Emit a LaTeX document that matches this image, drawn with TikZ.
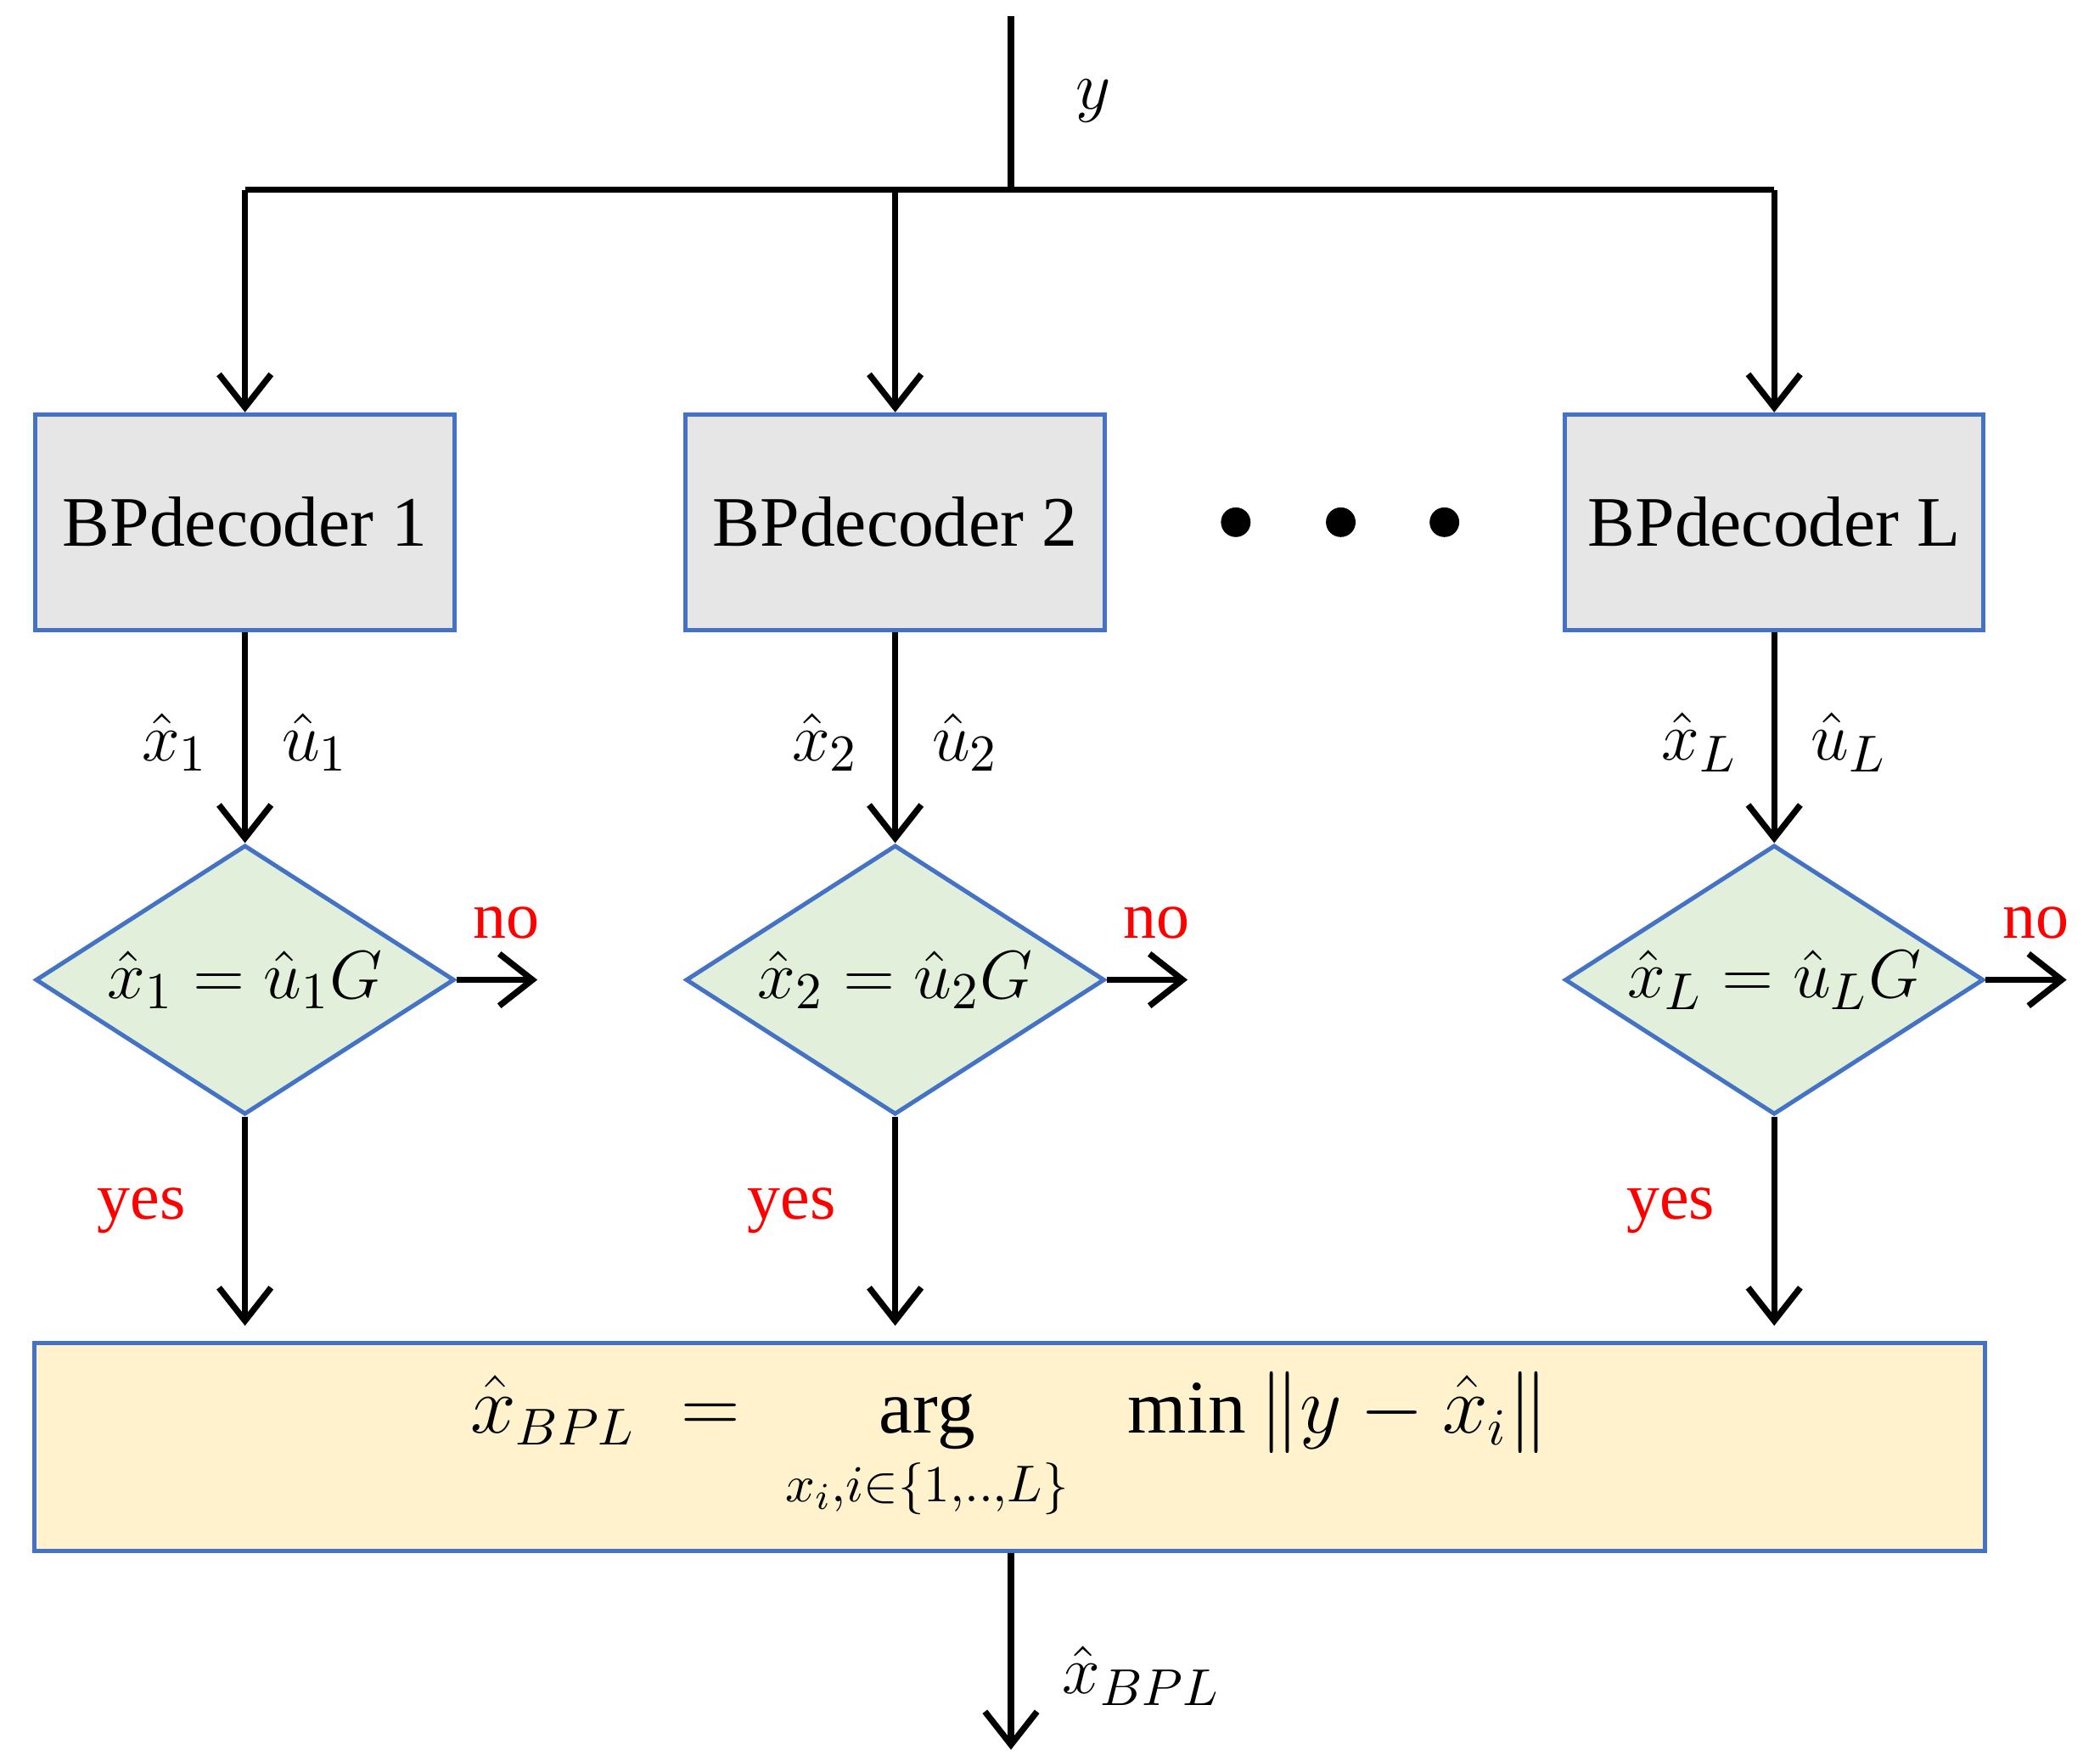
\documentclass[tikz,border=0pt]{standalone}
\usepackage{amsmath}
\usepackage{fontspec}
\setmainfont{Liberation Serif}
\usetikzlibrary{shapes.geometric,arrows.meta}
\definecolor{bblue}{HTML}{4472C4}
\definecolor{bgray}{HTML}{E7E6E6}
\definecolor{bgreen}{HTML}{E2EFDA}
\definecolor{byellow}{HTML}{FFF2CC}
\begin{document}
\begin{tikzpicture}[x=0.01cm,y=-0.01cm,
  line/.style={line width=1.3pt,black},
  arr/.style={line width=1.3pt,-{Straight Barb[length=7pt,width=11pt,line width=1.3pt]}},
  box/.style={draw=bblue,line width=0.9pt,fill=bgray,minimum width=3.11cm,minimum height=1.6cm,font=\fontsize{15}{17}\selectfont},
  dia/.style={diamond,draw=bblue,line width=0.9pt,fill=bgreen,minimum width=3.11cm,minimum height=2cm,aspect=1.555,inner sep=0pt,font=\fontsize{15}{17}\selectfont},
  lab/.style={font=\fontsize{15}{17}\selectfont},
  red/.style={text=red,font=\fontsize{14}{16}\selectfont}]
\useasboundingbox (0,0) rectangle (1560,1308);
\coordinate (top) at (751,12);
\coordinate (j) at (751,141);
\coordinate (j1) at (182,141);
\coordinate (j2) at (665,141);
\coordinate (jL) at (1318,141);
\node[lab] (y) at (812,75) {$y$};
\node[box] (b1) at (182,388) {BPdecoder 1};
\node[box] (b2) at (665,388) {BPdecoder 2};
\node[box] (bL) at (1318,388) {BPdecoder L};
\node[circle,fill,inner sep=0pt,minimum size=0.22cm] (d1) at (918,388) {};
\node[circle,fill,inner sep=0pt,minimum size=0.22cm] (d2) at (996,388) {};
\node[circle,fill,inner sep=0pt,minimum size=0.22cm] (d3) at (1073,388) {};
\node[dia] (c1) at (182,728) {$\hat{x}_1=\hat{u}_1G$};
\node[dia] (c2) at (665,728) {$\hat{x}_2=\hat{u}_2G$};
\node[dia] (cL) at (1318,728) {$\hat{x}_L=\hat{u}_LG$};
\node[draw=bblue,line width=0.9pt,fill=byellow,minimum width=14.48cm,minimum height=1.54cm,font=\fontsize{16}{18}\selectfont] (f) at (750,1075)
 {$\hat{x}_{BPL}\;=\;\underset{x_i,i\in\{1,..,L\}}{\arg}\;\;\min\left\|y-\hat{x}_i\right\|$};
\draw[line] (top) -- (j);
\draw[line] (j1) -- (jL);
\draw[arr] (j1) -- (b1.north);
\draw[arr] (j2) -- (b2.north);
\draw[arr] (jL) -- (bL.north);
\foreach \b/\c/\i in {b1/c1/1,b2/c2/2,bL/cL/L}{
  \draw[arr] (\b.south) -- (\c.north);
  \node[lab,anchor=east] (xl\i) at ([xshift=-0.15cm,yshift=-0.82cm]\b.south) {$\hat{x}_\i$};
  \node[lab,anchor=west] (ul\i) at ([xshift=0.15cm,yshift=-0.82cm]\b.south) {$\hat{u}_\i$};
  \coordinate (no\i) at ([xshift=0.6cm]\c.east);
  \draw[arr] (\c.east) -- (no\i);
  \node[red] (nol\i) at ([xshift=0.37cm,yshift=0.42cm]\c.east) {no};
  \coordinate (in\i) at (\c.south |- 0,985);
  \draw[arr] (\c.south) -- (in\i);
  \node[red] (yes\i) at ([xshift=-0.77cm,yshift=-0.7cm]\c.south) {yes};
}
\coordinate (out) at (751,1300);
\draw[arr] (f.south -| out) -- (out);
\node[lab] (xo) at (848,1245) {$\hat{x}_{BPL}$};
\end{tikzpicture}
\end{document}
